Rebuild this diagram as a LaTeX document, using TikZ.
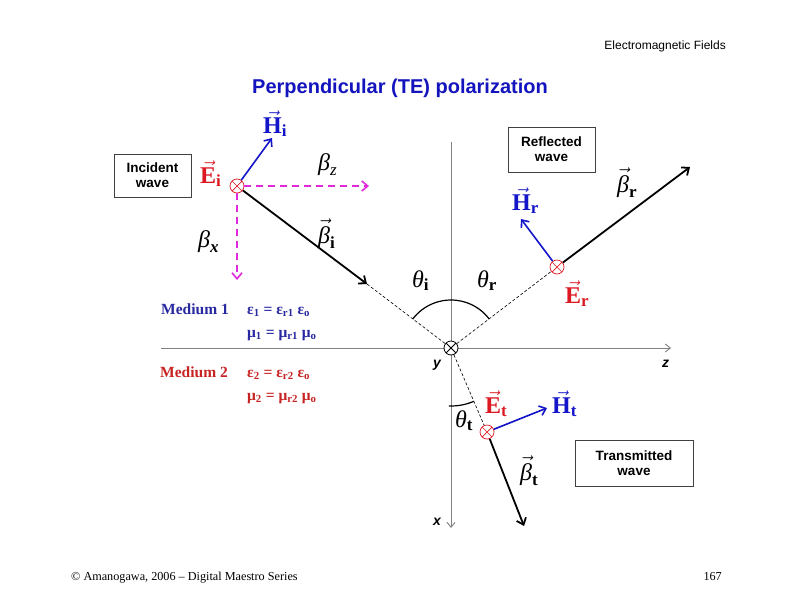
\documentclass[tikz,border=0pt]{standalone}
\usepackage{fontspec}
\setmainfont{Liberation Serif}
\setsansfont{Liberation Sans}
\usetikzlibrary{arrows.meta}
\definecolor{ered}{RGB}{220,25,35}
\definecolor{hblue}{RGB}{20,20,200}
\definecolor{titleblue}{RGB}{20,20,190}
\definecolor{mag}{RGB}{225,40,220}
\definecolor{navy}{RGB}{40,40,160}
\definecolor{mred}{RGB}{200,35,35}
\definecolor{axisgray}{RGB}{130,130,130}
\newcommand\subf[1]{\hbox{\fontsize{17}{17}\selectfont #1}}
\newcommand\vl[2]{$\vec{\hbox{#1}}_{\subf{#2}}$}
\newcommand\gk[1]{\hbox{\mdseries\itshape #1}}
\tikzset{
  otimesbase/.style={circle, minimum size=14pt, inner sep=0pt, fill=white,
    path picture={\draw[#1] (path picture bounding box.north west) -- (path picture bounding box.south east)
                   (path picture bounding box.north east) -- (path picture bounding box.south west);}},
  otimesE/.style={otimesbase={ered, line width=0.7pt}, draw=ered, line width=0.7pt},
  otimesO/.style={otimesbase={black, line width=0.8pt}, draw=black, line width=0.8pt},
  barb/.style={-{Straight Barb[length=6pt,width=10pt]}},
  karrow/.style={barb, line width=1.8pt, black},
  harrow/.style={barb, line width=1.6pt, hblue},
  marrow/.style={barb, line width=1.6pt, mag, dash pattern=on 7pt off 5pt},
  axisline/.style={-{Straight Barb[length=5pt,width=8pt]}, line width=0.9pt, axisgray},
  guide/.style={line width=0.6pt, black, dash pattern=on 3pt off 2pt},
  anglearc/.style={line width=1.2pt, black},
  lab/.style={anchor=base west, inner sep=0pt, font=\fontsize{24}{28}\selectfont\bfseries},
  axlab/.style={anchor=base west, inner sep=0pt, font=\fontsize{14}{16}\selectfont\sffamily\bfseries\itshape},
  wavebox/.style={draw=black!75, line width=0.8pt, align=center, inner sep=0pt,
    font=\fontsize{13.5}{15}\selectfont\sffamily\bfseries},
  medtext/.style={anchor=base west, inner sep=0pt, font=\fontsize{15.5}{18}\selectfont\bfseries},
}
\begin{document}
\begin{tikzpicture}[x=1pt,y=-1pt]
\useasboundingbox[fill=white] (0,0) rectangle (800,600);

% header, title, footer
\node[anchor=base east, inner sep=0pt, font=\fontsize{12}{14}\selectfont\sffamily] (hdr) at (726,49) {Electromagnetic Fields};
\node[anchor=base, inner sep=0pt, text=titleblue, font=\fontsize{20}{24}\selectfont\sffamily\bfseries] (title) at (400,93) {Perpendicular (TE) polarization};
\node[anchor=base west, inner sep=0pt, font=\fontsize{12.2}{14}\selectfont] (foot) at (71,580) {© Amanogawa, 2006 – Digital Maestro Series};
\node[anchor=base east, inner sep=0pt, font=\fontsize{12.2}{14}\selectfont] (page) at (722,580) {167};

% axes
\coordinate (zs) at (161,348);
\coordinate (ze) at (671,348);
\coordinate (xs) at (451,142);
\coordinate (xe) at (451,528);
\draw[axisline] (zs) -- (ze);
\draw[axisline] (xs) -- (xe);

% boxes
\node[wavebox, minimum width=77pt, minimum height=43pt] (inc) at (152.5,175.5) {Incident\\wave};
\node[wavebox, minimum width=87pt, minimum height=45pt] (refl) at (551.5,149.5) {Reflected\\wave};
\node[wavebox, minimum width=118pt, minimum height=46pt] (trans) at (634,463) {Transmitted\\wave};

% arrow end points
\coordinate (bi) at (367,284);
\coordinate (br) at (690,167);
\coordinate (bt) at (524,526);
\coordinate (hi) at (272,138);
\coordinate (hr) at (521,219);
\coordinate (ht) at (547,408);
\coordinate (bz) at (369,186);
\coordinate (bx) at (237,280);

% origin and field points
\node[otimesO] (O) at (451,348) {};
\node[otimesE] (Ei) at (237,186) {};
\node[otimesE] (Er) at (557,267) {};
\node[otimesE] (Et) at (487,432) {};

% guide lines
\draw[guide] (bi) -- (O);
\draw[guide] (O) -- (Er);
\draw[guide] (O) -- (Et);

% angle arcs
\draw[anglearc] (O) ++(-142.7:48) arc[start angle=-142.7, end angle=-37.3, radius=48];
\draw[anglearc] (O) ++(92:58) arc[start angle=92, end angle=67, radius=58];

% wave vectors
\draw[karrow] (Ei) -- (bi);
\draw[karrow] (Er) -- (br);
\draw[karrow] (Et) -- (bt);
\draw[harrow] (Ei) -- (hi);
\draw[harrow] (Er) -- (hr);
\draw[harrow] (Et) -- (ht);
\draw[marrow] (Ei) -- (bz);
\draw[marrow] (Ei) -- (bx);

% labels
\node[lab, text=ered] (lEi) at (200,183) {\vl{E}{i}};
\node[lab, text=hblue] (lHi) at (263,133) {\vl{H}{i}};
\node[lab] (lbz) at (318,170) {$\gk{β}_{\subf{\mdseries\itshape z}}$};
\node[lab] (lbx) at (198,247) {$\gk{β}_{\subf{\bfseries\itshape x}}$};
\node[lab] (lbi) at (318,243) {$\vec{\gk{β}}_{\subf{i}}$};
\node[lab] (lti) at (412,287) {$\gk{θ}_{\subf{i}}$};
\node[lab] (ltr) at (477,287) {$\gk{θ}_{\subf{r}}$};
\node[lab, text=hblue] (lHr) at (512,210) {\vl{H}{r}};
\node[lab, text=ered] (lEr) at (565,303) {\vl{E}{r}};
\node[lab] (lbr) at (617,192) {$\vec{\gk{β}}_{\subf{r}}$};
\node[lab, text=ered] (lEt) at (485,413) {\vl{E}{t}};
\node[lab, text=hblue] (lHt) at (552,413) {\vl{H}{t}};
\node[lab] (ltt) at (455,427) {$\gk{θ}_{\subf{t}}$};
\node[lab] (lbt) at (520,480) {$\vec{\gk{β}}_{\subf{t}}$};

\node[axlab] (ly) at (433,367) {y};
\node[axlab] (lz) at (662,367) {z};
\node[axlab] (lx) at (433,525) {x};

% media
\node[medtext, text=navy] (m1) at (161,314) {Medium 1};
\node[medtext, text=navy] (e1) at (247,314) {ε\textsubscript{1} = ε\textsubscript{r1} ε\textsubscript{o}};
\node[medtext, text=navy] (u1) at (247,337) {μ\textsubscript{1} = μ\textsubscript{r1} μ\textsubscript{o}};
\node[medtext, text=mred] (m2) at (160,377) {Medium 2};
\node[medtext, text=mred] (e2) at (247,377) {ε\textsubscript{2} = ε\textsubscript{r2} ε\textsubscript{o}};
\node[medtext, text=mred] (u2) at (247,400) {μ\textsubscript{2} = μ\textsubscript{r2} μ\textsubscript{o}};
\end{tikzpicture}
\end{document}
